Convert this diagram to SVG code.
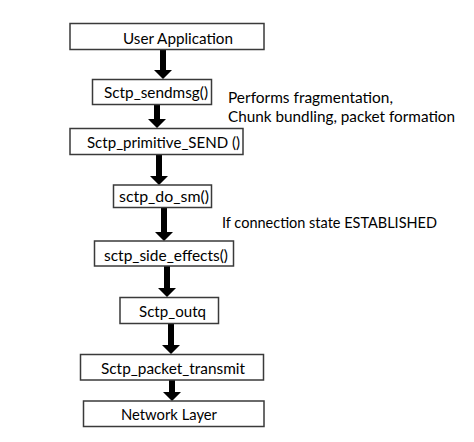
<svg xmlns="http://www.w3.org/2000/svg" width="474" height="442" viewBox="0 0 474 442">
<style>
.box{fill:#fff;stroke:#3a3a3a;stroke-width:1.5}
.t{font-family:Lato,"Open Sans",sans-serif;font-size:15px;fill:#000}
.arr{fill:#000}
</style>
<rect width="474" height="442" fill="#fff"/>
<g id="connectors">
<path class="arr" d="M160,49 h6 v21 h6 l-9,9 l-9,-9 h6 z"/>
<path class="arr" d="M154,104 h6 v15 h6 l-9,9 l-9,-9 h6 z"/>
<path class="arr" d="M156,154 h6 v22 h6 l-9,9 l-9,-9 h6 z"/>
<path class="arr" d="M161,207 h6 v25 h6 l-9,9 l-9,-9 h6 z"/>
<path class="arr" d="M164,266 h6 v22 h6 l-9,9 l-9,-9 h6 z"/>
<path class="arr" d="M168,323 h6 v22 h6 l-9,9 l-9,-9 h6 z"/>
<path class="arr" d="M169,380 h6 v12 h6 l-9,9 l-9,-9 h6 z"/>
</g>
<g id="user-application"><rect class="box" x="70" y="23.5" width="194" height="26"/><text class="t" x="123" y="44" textLength="110" lengthAdjust="spacingAndGlyphs">User Application</text></g>
<g id="sctp-sendmsg"><rect class="box" x="92.5" y="79.5" width="119" height="25"/><text class="t" x="104" y="98" textLength="104" lengthAdjust="spacingAndGlyphs">Sctp_sendmsg()</text></g>
<g id="sctp-primitive-send"><rect class="box" x="70" y="128.5" width="173" height="26"/><text class="t" x="87" y="148" textLength="153" lengthAdjust="spacingAndGlyphs">Sctp_primitive_SEND ()</text></g>
<g id="sctp-do-sm"><rect class="box" x="113.5" y="185" width="98" height="22.5"/><text class="t" x="119" y="202" textLength="90" lengthAdjust="spacingAndGlyphs">sctp_do_sm()</text></g>
<g id="sctp-side-effects"><rect class="box" x="94.5" y="241" width="139" height="25"/><text class="t" x="104" y="261" textLength="124" lengthAdjust="spacingAndGlyphs">sctp_side_effects()</text></g>
<g id="sctp-outq"><rect class="box" x="120" y="297.5" width="98.5" height="26"/><text class="t" x="139" y="317" textLength="67" lengthAdjust="spacingAndGlyphs">Sctp_outq</text></g>
<g id="sctp-packet-transmit"><rect class="box" x="80.5" y="354.5" width="183" height="25.5"/><text class="t" x="101" y="374" textLength="144" lengthAdjust="spacingAndGlyphs">Sctp_packet_transmit</text></g>
<g id="network-layer"><rect class="box" x="83.5" y="401" width="180.5" height="25.5"/><text class="t" x="121" y="420" textLength="96" lengthAdjust="spacingAndGlyphs">Network Layer</text></g>
<g id="notes">
<text class="t" x="228" y="103" textLength="165" lengthAdjust="spacingAndGlyphs">Performs fragmentation,</text>
<text class="t" x="228" y="122" textLength="227" lengthAdjust="spacingAndGlyphs">Chunk bundling, packet formation</text>
<text class="t" x="222" y="228" textLength="215" lengthAdjust="spacingAndGlyphs">If connection state ESTABLISHED</text>
</g>
</svg>
